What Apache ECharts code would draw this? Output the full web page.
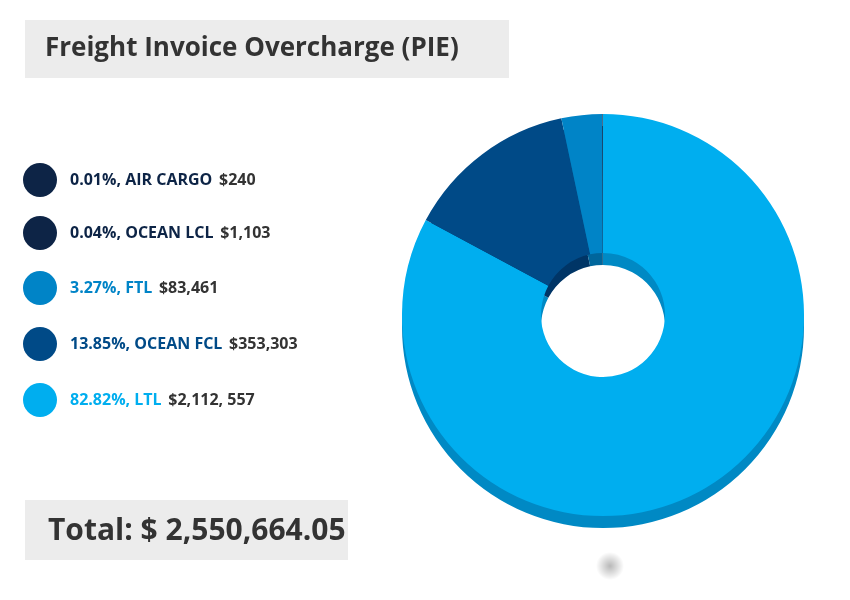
<!DOCTYPE html>
<html><head><meta charset="utf-8">
<script src="https://cdn.jsdelivr.net/npm/echarts@6/dist/echarts.min.js"></script>
<style>body{margin:0;background:#fff}#c{width:850px;height:600px}</style>
</head><body><div id="c"></div>
<script>
// slices in clockwise order from the top
const names = ['LTL', 'OCEAN FCL', 'FTL', 'OCEAN LCL', 'AIR CARGO']
const values = [2112557, 353303, 83461, 1103, 240]
const colors = ['#00aeef', '#004a87', '#0084c7', '#0d2446', '#0d2446']
const edgeColors = ['#0089c4', '#003566', '#00669c', '#081a33', '#081a33']
// legend lines, top to bottom
const legendPct = ['0.01%, AIR CARGO', '0.04%, OCEAN LCL', '3.27%, FTL', '13.85%, OCEAN FCL', '82.82%, LTL']
const legendAmt = ['$240', '$1,103', '$83,461', '$353,303', '$2,112, 557']
const legendColors = ['#0d2446', '#0d2446', '#0084c7', '#004a87', '#00aeef']
const totalText = 'Total: $ 2,550,664.05'

const font = 'Open Sans, Noto Sans, sans-serif'
let graphic = [
	{ type: 'rect', shape: { x: 25, y: 20, width: 484, height: 58 }, style: { fill: '#ececec' } },
	{ type: 'text', x: 45, y: 49, style: { text: 'Freight Invoice Overcharge (PIE)', font: 'bold 26px ' + font, fill: '#333', verticalAlign: 'middle' } },
	{ type: 'rect', shape: { x: 25, y: 500, width: 323, height: 60 }, style: { fill: '#ececec' } },
	{ type: 'text', x: 48, y: 531, style: { text: totalText, font: 'bold 30px ' + font, fill: '#333', verticalAlign: 'middle' } },
	{ type: 'ellipse', shape: { cx: 610, cy: 566, rx: 200, ry: 14 }, z: -1,
		style: { fill: { type: 'radial', x: 0.5, y: 0.5, r: 0.5, colorStops: [{ offset: 0, color: 'rgba(0,0,0,0.28)' }, { offset: 1, color: 'rgba(0,0,0,0)' }] } } },
]
const rowsY = [180, 233, 288, 344, 400]
for (let i = 0; i < rowsY.length; i++) {
	graphic.push({ type: 'circle', shape: { cx: 40, cy: rowsY[i], r: 17 }, style: { fill: legendColors[i] } })
	graphic.push({
		type: 'text', x: 70, y: rowsY[i],
		style: { text: '{a|' + legendPct[i] + '}  {b|' + legendAmt[i] + '}', verticalAlign: 'middle',
			rich: { a: { font: 'bold 16px ' + font, fill: legendColors[i] }, b: { font: 'bold 16px ' + font, fill: '#333' } } }
	})
}

const data = names.map((n, i) => ({ name: n, value: values[i], itemStyle: { color: colors[i] } }))
const edgeData = names.map((n, i) => ({ name: n, value: values[i], itemStyle: { color: edgeColors[i] } }))

var chart = echarts.init(document.getElementById('c'))
chart.setOption({
	animation: false,
	graphic: graphic,
	series: [
		{ type: 'pie', center: [603, 327], radius: [62, 201], startAngle: 90, label: { show: false }, silent: true, data: edgeData, z: 1 },
		{ type: 'pie', center: [603, 315], radius: [62, 201], startAngle: 90, label: { show: false }, data: data, z: 2 },
	],
})
</script></body></html>
